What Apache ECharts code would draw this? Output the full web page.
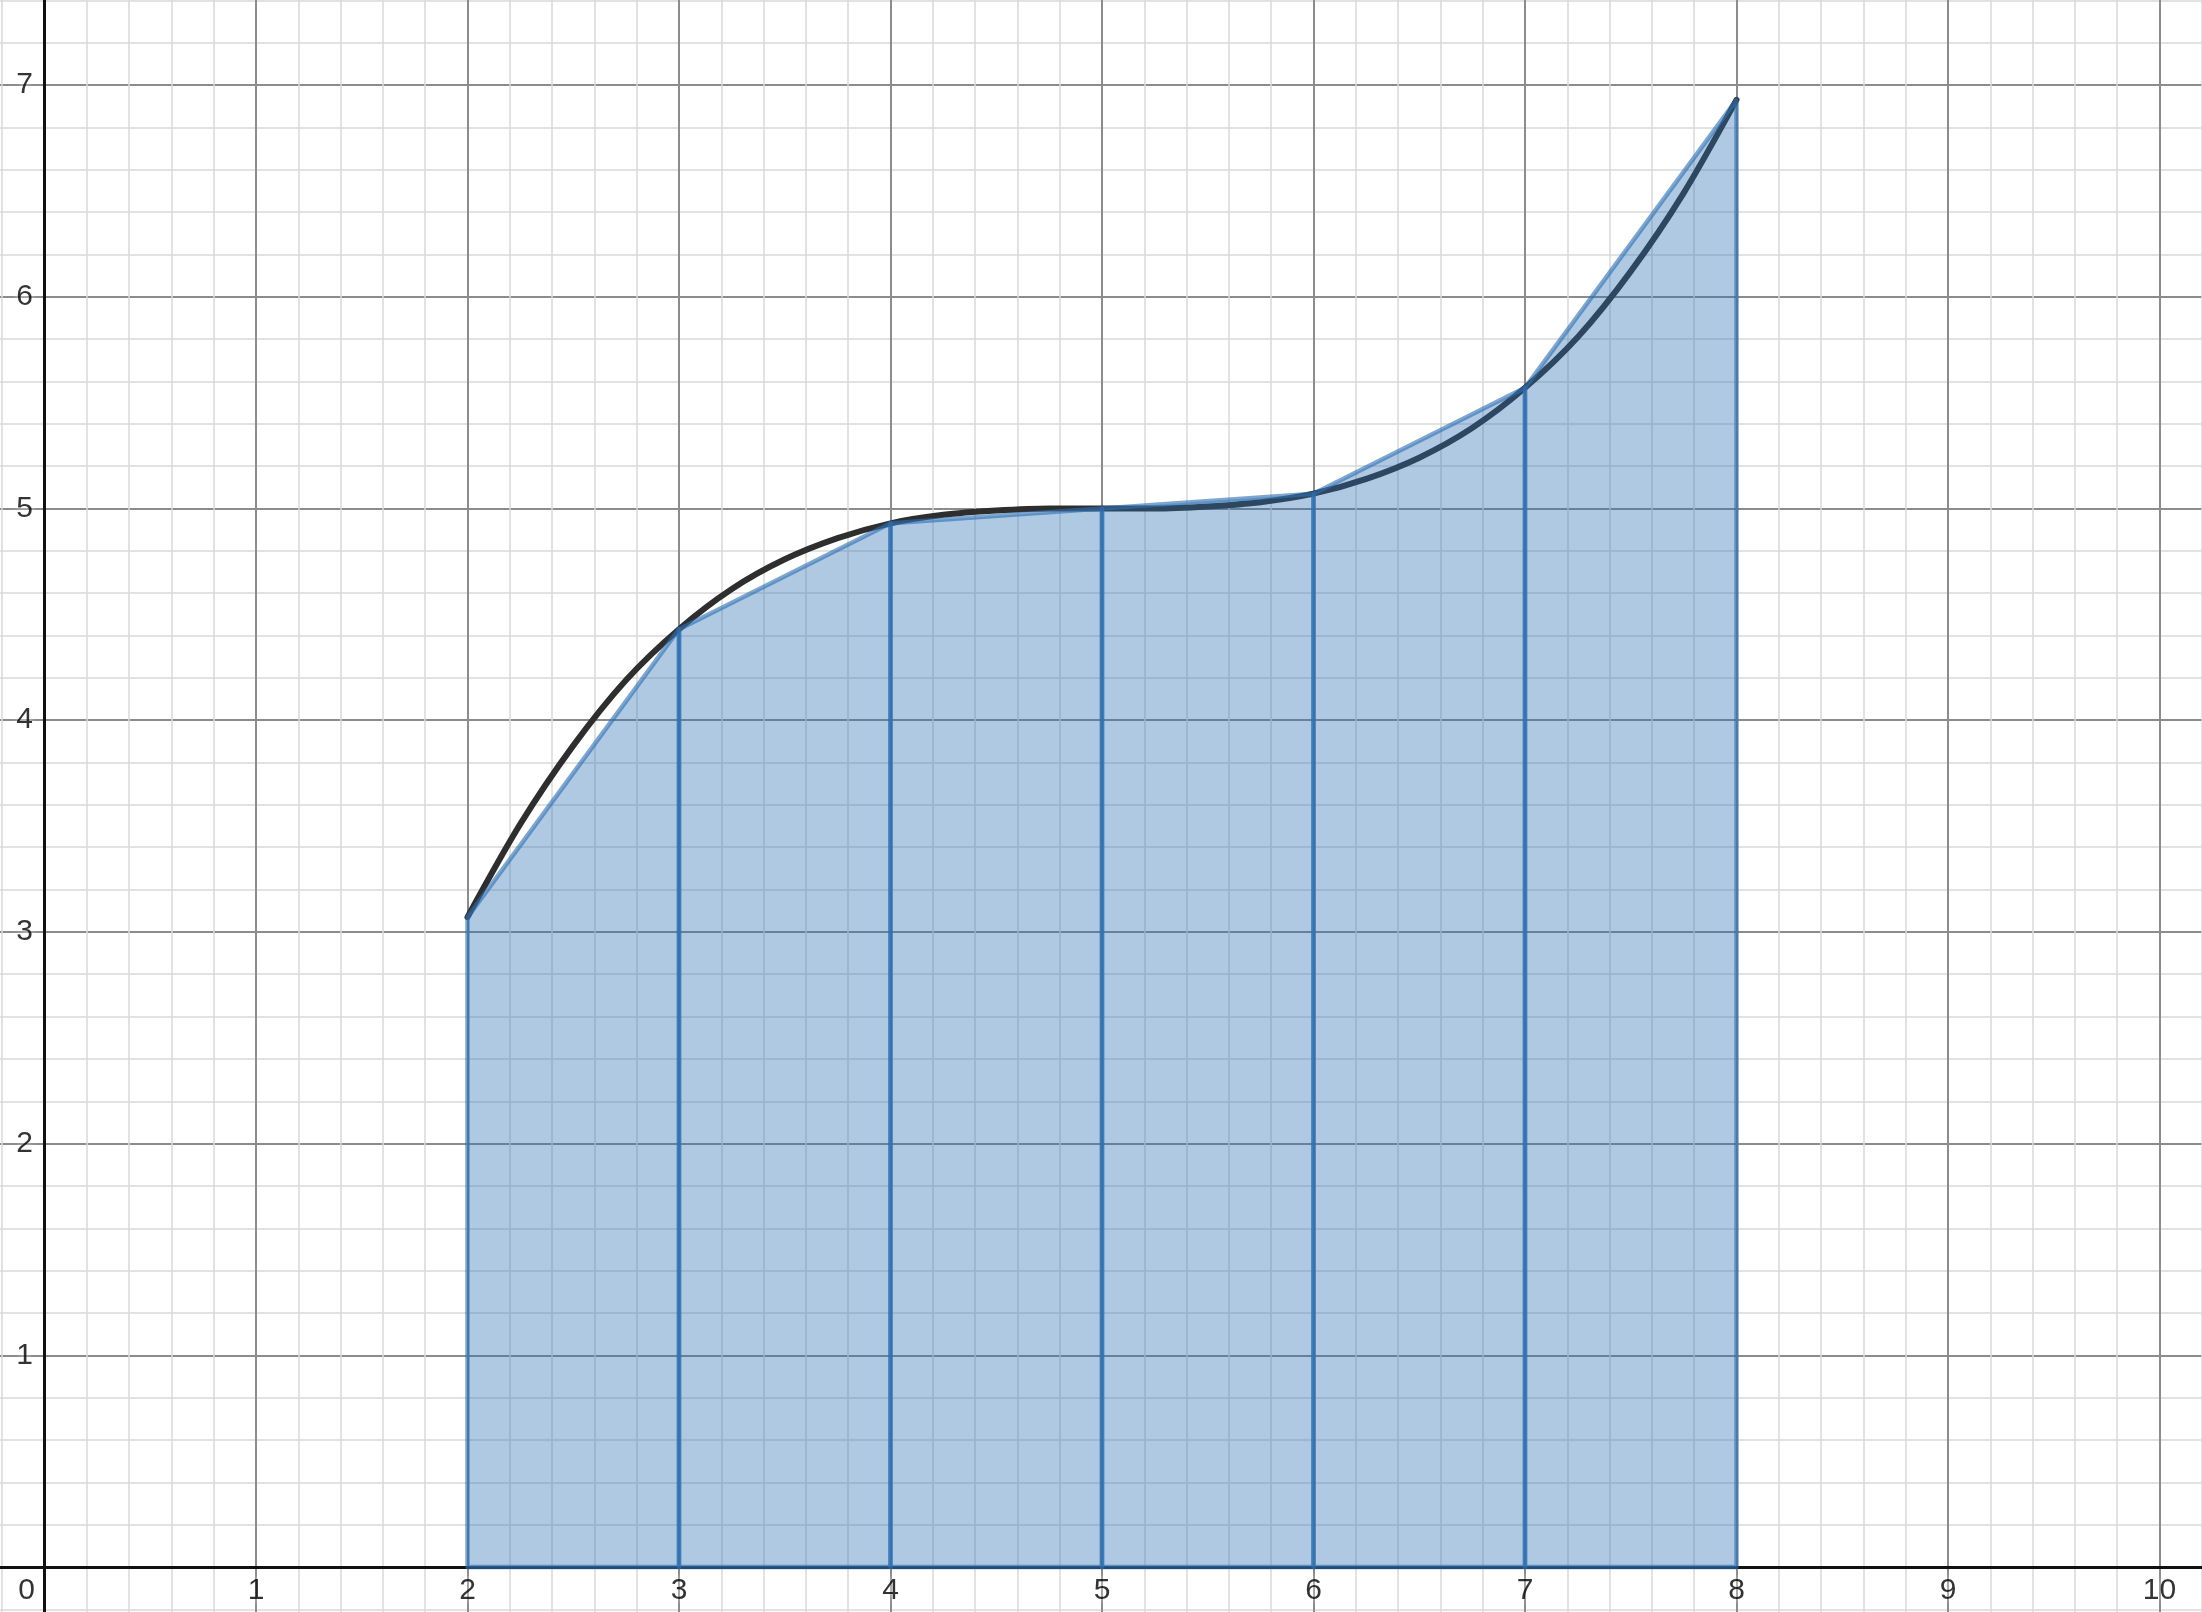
<!DOCTYPE html>
<html>
<head>
<meta charset="utf-8">
<script src="https://cdn.jsdelivr.net/npm/echarts@6/dist/echarts.min.js"></script>
<style>
html,body{margin:0;padding:0;background:#fff;}
#chart{width:2202px;height:1612px;}
</style>
</head>
<body>
<div id="chart"></div>
<script>
// Smooth curve
const curveX = [2, 2.25, 2.5, 2.75, 3, 3.25, 3.5, 3.75, 4, 4.25, 4.5, 4.75, 5, 5.25, 5.5, 5.75, 6, 6.25, 6.5, 6.75, 7, 7.25, 7.5, 7.75, 8];
const curveY = [3.07, 3.51, 3.88, 4.19, 4.43, 4.62, 4.76, 4.86, 4.93, 4.97, 4.99, 5.00, 5.00, 5.00, 5.01, 5.03, 5.07, 5.14, 5.24, 5.38, 5.57, 5.81, 6.12, 6.49, 6.93];

// Trapezoid nodes
const trapX = [2, 3, 4, 5, 6, 7, 8];
const trapY = [3.07, 4.43, 4.93, 5.00, 5.07, 5.57, 6.93];

// Tick labels
const xTickValues = [0, 1, 2, 3, 4, 5, 6, 7, 8, 9, 10];
const xTickLabels = ['0', '1', '2', '3', '4', '5', '6', '7', '8', '9', '10'];
const yTickValues = [1, 2, 3, 4, 5, 6, 7];
const yTickLabels = ['1', '2', '3', '4', '5', '6', '7'];

const curveData = curveX.map((x, i) => [x, curveY[i]]);
const trapData = [];
for (let i = 0; i < trapX.length - 1; i++) {
  trapData.push([trapX[i], trapY[i], trapX[i + 1], trapY[i + 1]]);
}

const FONT = '"Liberation Sans", Arial, sans-serif';
const labelBase = {
  show: true,
  color: '#000',
  fontFamily: FONT,
  fontSize: 30,
  textShadowColor: '#fff',
  textShadowBlur: 6
};

const xLabelData = xTickValues.map((v, i) => ({
  value: [v, 0],
  label: Object.assign({}, labelBase, {
    position: 'bottom',
    distance: 8,
    offset: v === 0 ? [-18, 0] : [0, 0],
    formatter: xTickLabels[i]
  })
}));
const yLabelData = yTickValues.map((v, i) => ({
  value: [0, v],
  label: Object.assign({}, labelBase, {
    position: 'left',
    distance: 11,
    formatter: yTickLabels[i]
  })
}));

const chart = echarts.init(document.getElementById('chart'), null, { renderer: 'canvas' });

const axisCommon = {
  type: 'value', interval: 1,
  axisLine: { show: true, onZero: true, lineStyle: { color: '#111', width: 3 } },
  axisTick: { show: false },
  axisLabel: { show: false },
  minorTick: { show: false, splitNumber: 5 },
  splitLine: { show: true, lineStyle: { color: '#8c8c8c', width: 2 } },
  minorSplitLine: { show: true, lineStyle: { color: '#d9d9d9', width: 1.5 } }
};

chart.setOption({
  animation: false,
  backgroundColor: '#fff',
  grid: { left: -167, right: -169, top: -126.6, bottom: -166.7, containLabel: false, outerBoundsMode: 'none' },
  xAxis: Object.assign({}, axisCommon, { min: -1, max: 11, position: 'bottom' }),
  yAxis: Object.assign({}, axisCommon, { min: -1, max: 8, position: 'left' }),
  series: [
    {
      name: 'curve',
      type: 'line',
      z: 2,
      data: curveData,
      smooth: 0.3,
      showSymbol: false,
      symbol: 'none',
      silent: true,
      lineStyle: { color: '#2e2e2e', width: 6, cap: 'round', join: 'round' }
    },
    {
      name: 'trapezoids',
      type: 'custom',
      z: 3,
      silent: true,
      data: trapData,
      dimensions: ['x0', 'y0', 'x1', 'y1'],
      encode: { x: [0, 2], y: [1, 3] },
      renderItem: function (params, api) {
        const x0 = api.value(0), y0 = api.value(1), x1 = api.value(2), y1 = api.value(3);
        const pts = [api.coord([x0, 0]), api.coord([x0, y0]), api.coord([x1, y1]), api.coord([x1, 0])];
        return {
          type: 'polygon',
          shape: { points: pts },
          style: {
            fill: 'rgba(45,112,179,0.38)',
            stroke: 'rgba(45,112,179,0.62)',
            lineWidth: 4.5,
            lineJoin: 'round'
          }
        };
      }
    },
    {
      name: 'xTicks',
      type: 'scatter',
      z: 10,
      silent: true,
      symbolSize: 1,
      itemStyle: { color: 'rgba(0,0,0,0)' },
      data: xLabelData
    },
    {
      name: 'yTicks',
      type: 'scatter',
      z: 10,
      silent: true,
      symbolSize: 1,
      itemStyle: { color: 'rgba(0,0,0,0)' },
      data: yLabelData
    }
  ]
});
</script>
</body>
</html>
